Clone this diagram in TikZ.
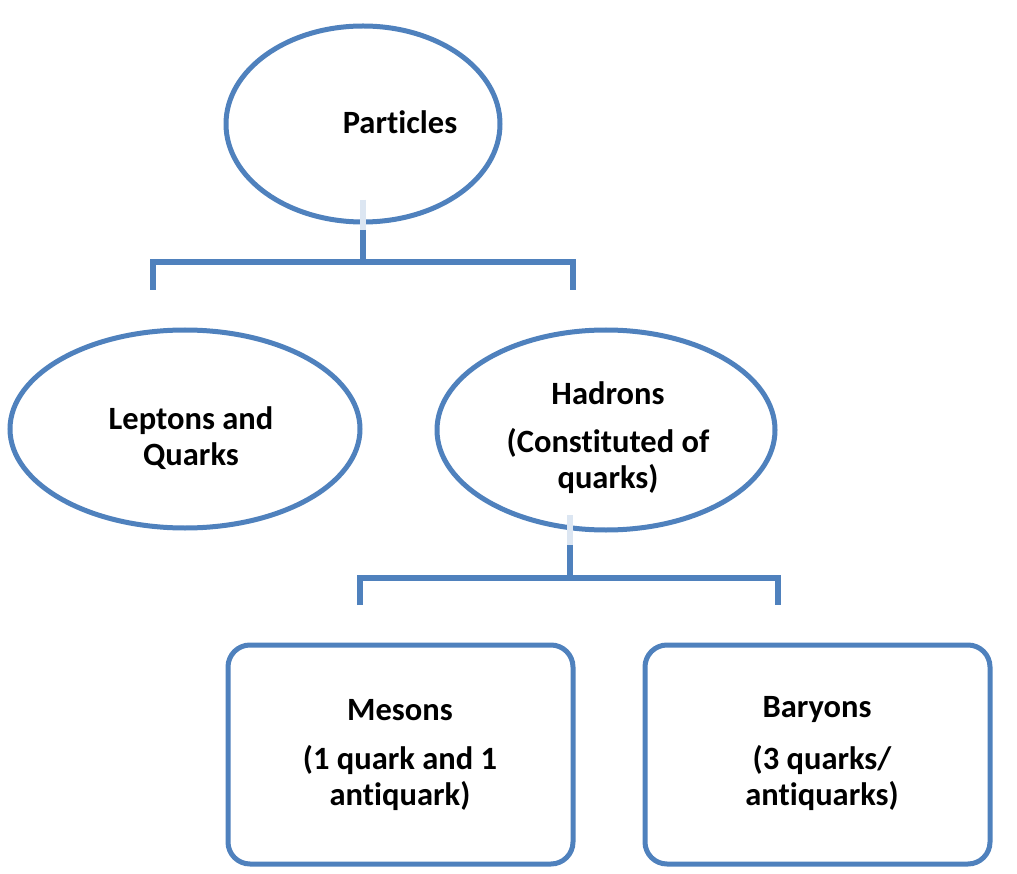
\documentclass[tikz,border=0pt]{standalone}
\usepackage{fontspec}
\setmainfont[Ligatures={NoCommon,NoRare,NoContextual}]{Carlito}
\usetikzlibrary{shapes.geometric}
\definecolor{bl}{RGB}{79,129,189}
\definecolor{lbl}{RGB}{220,230,242}
\begin{document}
\begin{tikzpicture}[x=1pt,y=-1pt,
  ell/.style={ellipse,draw=bl,line width=5pt,fill=white,inner sep=0pt},
  box/.style={rectangle,rounded corners=22pt,draw=bl,line width=5pt,fill=white,minimum width=345pt,minimum height=219pt},
  lbl/.style={font=\bfseries\fontsize{32.5}{36}\selectfont,align=center},
  conn/.style={draw=bl,line width=5.5pt},
  lconn/.style={draw=lbl,line width=5.5pt}]
\useasboundingbox (0,0) rectangle (1017,874);
\node[ell,minimum width=274pt,minimum height=196pt] (p) at (363,124) {};
\node[lbl] at (400,122) {Particles};
\node[ell,minimum width=350pt,minimum height=198pt] (l) at (185,429) {};
\node[lbl] at (191,438) {Leptons and\\Quarks};
\node[ell,minimum width=338pt,minimum height=200pt] (h) at (606,430) {};
\node[lbl] at (608,393) {Hadrons};
\node[lbl] at (608,461) {(Constituted of\\quarks)};
\node[box] (m) at (400.5,754.5) {};
\node[lbl] at (400,710) {Mesons};
\node[lbl] at (400,778) {(1 quark and 1\\antiquark)};
\node[box] (b) at (817.5,754.5) {};
\node[lbl] at (817,710) {Baryons};
\node[lbl] at (822,778) {(3 quarks/\\antiquarks)};
\coordinate (p1) at (363,200); \coordinate (p2) at (363,230);
\coordinate (pj) at (363,262);
\coordinate (pl) at (153,262); \coordinate (pl2) at (153,290);
\coordinate (pr) at (573,262); \coordinate (pr2) at (573,290);
\draw[lconn] (p1) -- (p2);
\draw[conn] (p2) -- (pj);
\draw[conn] (pl2) -- (pl) -- (pr) -- (pr2);
\coordinate (h1) at (570,515); \coordinate (h2) at (570,545);
\coordinate (hj) at (570,578);
\coordinate (hl) at (360,578); \coordinate (hl2) at (360,605);
\coordinate (hr) at (778,578); \coordinate (hr2) at (778,605);
\draw[lconn] (h1) -- (h2);
\draw[conn] (h2) -- (hj);
\draw[conn] (hl2) -- (hl) -- (hr) -- (hr2);
\end{tikzpicture}
\end{document}
